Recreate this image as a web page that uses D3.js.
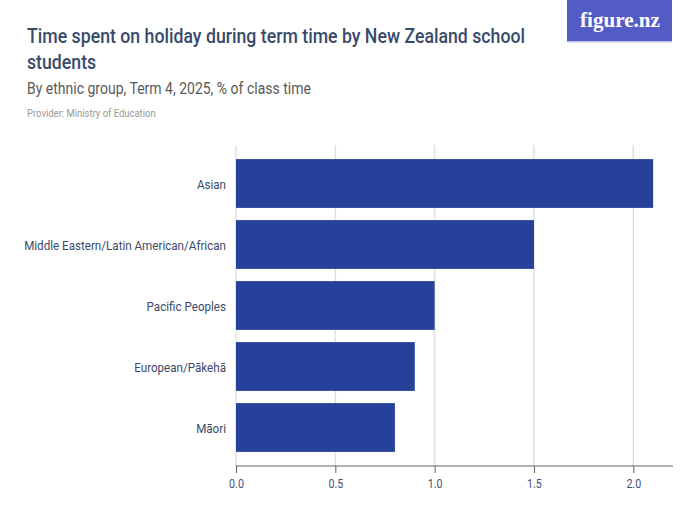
<!DOCTYPE html>
<html>
<head>
  <meta charset="utf-8">
  <title>Time spent on holiday during term time</title>
  <script src="https://d3js.org/d3.v7.min.js"></script>
  <style>
    body { margin: 0; background: #fff; }
    text { font-family: Roboto, "Noto Sans", sans-serif; }
  </style>
</head>
<body>
  <div id="chart"></div>

  <script>
    var categories = ["Asian", "Middle Eastern/Latin American/African", "Pacific Peoples", "European/Pākehā", "Māori"];
    var values = [2.1, 1.5, 1.0, 0.9, 0.8];
    var tickValues = [0, 0.5, 1.0, 1.5, 2.0];

    var width = 700, height = 525;
    var plotLeft = 236, plotRight = 673, gridTop = 145, axisY = 466;

    var svg = d3.select("#chart")
      .append("svg")
      .attr("width", width)
      .attr("height", height);

    // squeeze text horizontally to mimic the condensed house font
    function condense(sel, k) {
      sel.each(function() {
        var w = this.getComputedTextLength();
        d3.select(this).attr("textLength", w * k).attr("lengthAdjust", "spacingAndGlyphs");
      });
    }

    var x = d3.scaleLinear().domain([0, 2.2]).range([plotLeft, plotRight]);
    var y = d3.scaleBand().domain(categories).range([153, 458])
      .paddingInner(0.2).paddingOuter(0.1);

    // gridlines
    svg.append("g").selectAll("line")
      .data(tickValues)
      .enter().append("line")
      .attr("x1", function(d) { return x(d); })
      .attr("x2", function(d) { return x(d); })
      .attr("y1", gridTop)
      .attr("y2", axisY)
      .attr("stroke", "#e0e0e0")
      .attr("stroke-width", 1.5);

    svg.append("g").selectAll("rect")
      .data(values)
      .enter().append("rect")
      .attr("x", x(0))
      .attr("y", function(d, i) { return y(categories[i]); })
      .attr("width", function(d) { return x(d) - x(0); })
      .attr("height", y.bandwidth())
      .attr("fill", "#26419a");

    // category labels
    var cats = svg.append("g").selectAll("text")
      .data(categories)
      .enter().append("text")
      .attr("x", 226)
      .attr("y", function(d) { return y(d) + y.bandwidth() / 2 + 5; })
      .attr("text-anchor", "end")
      .attr("font-size", 13.5)
      .attr("fill", "#3b4a6b")
      .text(function(d) { return d; });
    condense(cats, 0.86);

    // x axis
    var xAxis = svg.append("g")
      .attr("transform", "translate(0," + axisY + ")")
      .call(d3.axisBottom(x).tickValues(tickValues).tickFormat(d3.format(".1f")).tickSize(7).tickPadding(6));
    xAxis.select(".domain").attr("stroke", "#666").attr("d", "M" + plotLeft + ",0H" + plotRight);
    xAxis.selectAll(".tick line").attr("stroke", "#666");
    xAxis.selectAll(".tick text")
      .attr("font-size", 13)
      .attr("fill", "#44507a")
      .style("font-family", "Roboto, sans-serif");
    condense(xAxis.selectAll(".tick text"), 0.82);

    // titles
    var t1 = svg.append("text").attr("x", 27).attr("y", 43)
      .attr("font-size", 20).attr("font-weight", 500).attr("fill", "#3a4a6b")
      .text("Time spent on holiday during term time by New Zealand school");
    condense(t1, 0.885);
    var t2 = svg.append("text").attr("x", 27).attr("y", 69)
      .attr("font-size", 20).attr("font-weight", 500).attr("fill", "#3a4a6b")
      .text("students");
    condense(t2, 0.885);
    var sub = svg.append("text").attr("x", 27).attr("y", 94)
      .attr("font-size", 16).attr("fill", "#5a5a5a")
      .text("By ethnic group, Term 4, 2025, % of class time");
    condense(sub, 0.875);
    var prov = svg.append("text").attr("x", 27).attr("y", 117)
      .attr("font-size", 11).attr("fill", "#999")
      .text("Provider: Ministry of Education");
    condense(prov, 0.86);

    // logo
    svg.append("rect").attr("x", 567).attr("y", 0).attr("width", 105).attr("height", 42)
      .attr("fill", "#535cc4");
    svg.append("rect").attr("x", 567).attr("y", 41).attr("width", 105).attr("height", 1.5)
      .attr("fill", "#b9bde8");
    var logo = svg.append("text").attr("x", 580).attr("y", 27)
      .attr("font-size", 22).attr("font-weight", "bold")
      .attr("fill", "#fff")
      .style("font-family", "'Liberation Serif', 'DejaVu Serif', serif")
      .text("figure.nz");
    logo.attr("textLength", 80).attr("lengthAdjust", "spacingAndGlyphs");
  </script>
</body>
</html>
